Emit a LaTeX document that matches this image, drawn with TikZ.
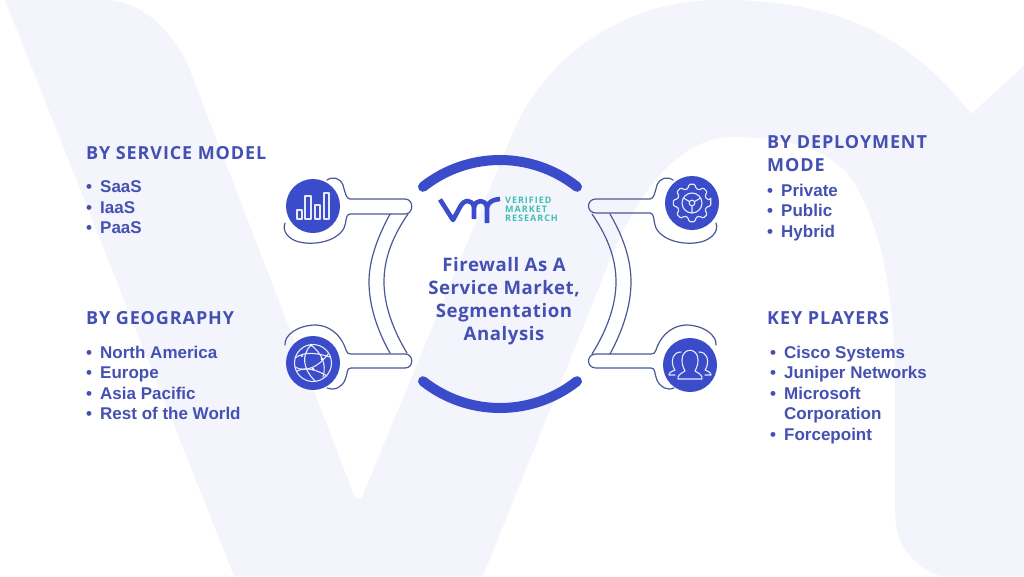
\documentclass[tikz,border=0pt]{standalone}
\usepackage{fontspec}
\setmainfont{Liberation Sans}
\newfontfamily\headfont[LetterSpace=5]{Open Sans}
\newfontfamily\titlefont[LetterSpace=3]{Open Sans}
\newfontfamily\logofont[LetterSpace=11]{Open Sans}
\definecolor{bgpale}{HTML}{F4F5FC}
\definecolor{brand}{HTML}{3B4CCA}
\definecolor{inktext}{HTML}{4451B2}
\definecolor{outl}{HTML}{4C5796}
\definecolor{teal}{HTML}{3DBFB4}
\newcommand{\bul}{\makebox[14pt][l]{•}}
\tikzset{
 x=1pt,y=-1pt,
 headtxt/.style={font=\headfont\bfseries\fontsize{18}{23}\selectfont,text=inktext,inner sep=0pt,anchor=north west,align=left},
 itemtxt/.style={font=\bfseries\fontsize{17}{20.5}\selectfont,text=inktext,inner sep=0pt,anchor=north west,align=left},
 titletxt/.style={font=\titlefont\bfseries\fontsize{18.6}{23}\selectfont,text=inktext,inner sep=0pt,align=center},
 logotxt/.style={font=\logofont\bfseries\fontsize{9}{9}\selectfont,text=teal,inner sep=0pt,anchor=north west,align=left},
 iconc/.style={circle,fill=brand,minimum size=54pt,inner sep=0pt},
 band/.style={draw=outl,line width=1.2pt,line cap=round,line join=round},
 bigarc/.style={draw=brand,line width=10pt,line cap=round},
 glyph/.style={draw=white!88!brand,line width=1.1pt,line join=round,line cap=round},
 logostroke/.style={draw=brand,line width=4.6pt,line join=round},
}
\begin{document}
\begin{tikzpicture}
\useasboundingbox (0,0) rectangle (1024,576);
\fill[white] (0,0) rectangle (1024,576);
\begin{scope}
\clip (0,0) rectangle (1024,576);
% background letters
\fill[bgpale] (5,0) -- (107,0) .. controls (143,2) and (170,30) .. (187,63)
  -- (352,490) .. controls (355,502) and (362,502) .. (365,490)
  -- (514,130) .. controls (545,60) and (620,0) .. (720,0)
  .. controls (830,0) and (905,30) .. (971,114)
  -- (1024,66) -- (1024,576) -- (940,576)
  .. controls (912,566) and (895,545) .. (895,510)
  -- (895,370) .. controls (893,290) and (880,215) .. (847,173)
  .. controls (820,145) and (780,137) .. (733,137)
  .. controls (680,137) and (635,190) .. (602,280)
  -- (483,576) -- (234,576) -- cycle;
\end{scope}
% central arcs
\draw[bigarc] ([shift={(-128.4:124)}]500,284) arc[start angle=-128.4,end angle=-51.6,radius=124];
\draw[bigarc] ([shift={(128.4:124)}]500,284) arc[start angle=128.4,end angle=51.6,radius=124];
% left top outline
\draw[band] (327,180) .. controls (333,176) and (340,178) .. (343,185) .. controls (345,192) and (346,199) .. (350,199)
  -- (405,199) .. controls (414,199) and (414,214) .. (405,214) -- (350,214)
  .. controls (345,214) and (347,222) .. (344,228) .. controls (336,243) and (310,246) .. (296,241)
  .. controls (288,238) and (282,231) .. (285,223);
% left bottom outline
\draw[band] (285,345) .. controls (284,335) and (298,325) .. (316,325) .. controls (334,326) and (343,340) .. (346,350)
  .. controls (347,353) and (348,354) .. (351,354)
  -- (405,354) .. controls (414,354) and (414,368) .. (405,368) -- (351,368)
  .. controls (346,368) and (348,374) .. (345,380) .. controls (342,387) and (335,391) .. (327,388);
% left band
\draw[band] (408,214) .. controls (390,240) and (384,262) .. (384,282) .. controls (384,305) and (393,330) .. (407,353);
\draw[band] (390,214) .. controls (376,240) and (369,262) .. (369,282) .. controls (369,305) and (377,330) .. (390,353);
% right top outline
\draw[band] (673,180) .. controls (667,176) and (660,178) .. (657,185) .. controls (655,192) and (654,199) .. (650,199)
  -- (596,199) .. controls (586,199) and (586,213) .. (596,213) -- (650,213)
  .. controls (655,213) and (653,222) .. (656,228) .. controls (664,243) and (690,246) .. (704,241)
  .. controls (712,238) and (719,231) .. (716,223);
% right bottom outline
\draw[band] (716,345) .. controls (717,335) and (703,325) .. (686,325) .. controls (668,326) and (659,340) .. (656,350)
  .. controls (655,353) and (654,354) .. (651,354)
  -- (596,354) .. controls (586,354) and (586,368) .. (596,368) -- (651,368)
  .. controls (656,368) and (654,374) .. (657,380) .. controls (660,387) and (667,391) .. (674,388);
% right band
\draw[band] (592,214) .. controls (610,240) and (616,262) .. (616,282) .. controls (616,305) and (607,330) .. (592,354);
\draw[band] (610,214) .. controls (625,240) and (631,262) .. (631,282) .. controls (631,305) and (623,330) .. (610,354);
% icon discs
\node[iconc] (chart) at (313,206) {};
\node[iconc] (globe) at (313,363) {};
\node[iconc] (gear) at (692,203) {};
\node[iconc] (people) at (690,365) {};
% chart glyph
\draw[glyph] (297,210) rectangle (302,219) (305,196) rectangle (311,219) (315,205) rectangle (320,219) (324,193) rectangle (329,219);
% globe glyph
\begin{scope}[shift={(313,363)}]
\draw[glyph] (0,0) circle[radius=18.5];
\draw[glyph] (-2,-18) .. controls (-12,-8) and (-10,6) .. (2,18);
\draw[glyph] (-2,-18) .. controls (8,-10) and (14,0) .. (10,14);
\draw[glyph] (-18,-5) .. controls (-8,-12) and (4,-10) .. (17,-6);
\draw[glyph] (-18,4) .. controls (-8,10) and (6,4) .. (15,-9);
\draw[glyph] (-16,8) .. controls (-6,3) and (6,8) .. (14,13);
\fill[white] (-2,-18) circle[radius=1.5] (9,-4) circle[radius=1.5] (0,6) circle[radius=1.5] (-11,-7) circle[radius=1.2];
\end{scope}
% gear glyph
\begin{scope}[shift={(692,203)}]
\draw[glyph,rounded corners=1.5pt] (-10:19) foreach \a in {0,45,...,315} { -- (\a-10:19) -- (\a+10:19) -- (\a+14:15) -- (\a+31:15) } -- cycle;
\draw[glyph] (0,0) circle[radius=10];
\draw[glyph] (0,0) circle[radius=2.8];
\draw[glyph] (90:2.8) -- (90:10) (-30:2.8) -- (-30:10) (210:2.8) -- (210:10);
\end{scope}
% people glyph
\begin{scope}[shift={(690,365)}]
\draw[glyph] (-12,14) .. controls (-13,10) and (-8,8) .. (-5,6) .. controls (-7,2) and (-8,-1) .. (-8,-5) .. controls (-8,-18) and (8,-18) .. (8,-5) .. controls (8,-1) and (7,2) .. (5,6) .. controls (8,8) and (13,10) .. (12,14) -- cycle;
\draw[glyph] (-9,-13) .. controls (-17,-13) and (-19,-5) .. (-17,1) .. controls (-16,3) and (-16,4) .. (-15,5) .. controls (-17,6) and (-21,7) .. (-21,10) -- (-15,10);
\draw[glyph] (9,-13) .. controls (17,-13) and (19,-5) .. (17,1) .. controls (16,3) and (16,4) .. (15,5) .. controls (17,6) and (21,7) .. (21,10) -- (15,10);
\end{scope}
% logo
\draw[logostroke] (440,199.5) -- (453,220) -- (460,207) .. controls (464,199) and (472,199) .. (474,207) -- (474,219);
\draw[logostroke] (474,207) .. controls (476,199) and (485,199) .. (487,207) -- (487,223);
\draw[logostroke] (487,207) .. controls (489,201) and (494,199.5) .. (500,199);
\node[logotxt] (logotext) at (505,197) {VERIFIED\\MARKET\\RESEARCH};
% title
\node[titletxt] (title) at (504,301) {Firewall As A\\Service Market,\\Segmentation\\Analysis};
% left texts
\node[headtxt] (h1) at (86,146) {BY SERVICE MODEL};
\node[itemtxt] (l1) at (86,180.5) {\bul SaaS\\\bul IaaS\\\bul PaaS};
\node[headtxt] (h2) at (86,311.5) {BY GEOGRAPHY};
\node[itemtxt] (l2) at (86,345.5) {\bul North America\\\bul Europe\\\bul Asia Pacific\\\bul Rest of the World};
% right texts
\node[headtxt] (h3) at (767,135) {BY DEPLOYMENT\\MODE};
\node[itemtxt] (l3) at (767,183.5) {\bul Private\\\bul Public\\\bul Hybrid};
\node[headtxt] (h4) at (767,311.5) {KEY PLAYERS};
\node[itemtxt] (l4) at (770,345.5) {\bul Cisco Systems\\\bul Juniper Networks\\\bul Microsoft\\\hspace*{14pt}Corporation\\\bul Forcepoint};
\end{tikzpicture}
\end{document}
